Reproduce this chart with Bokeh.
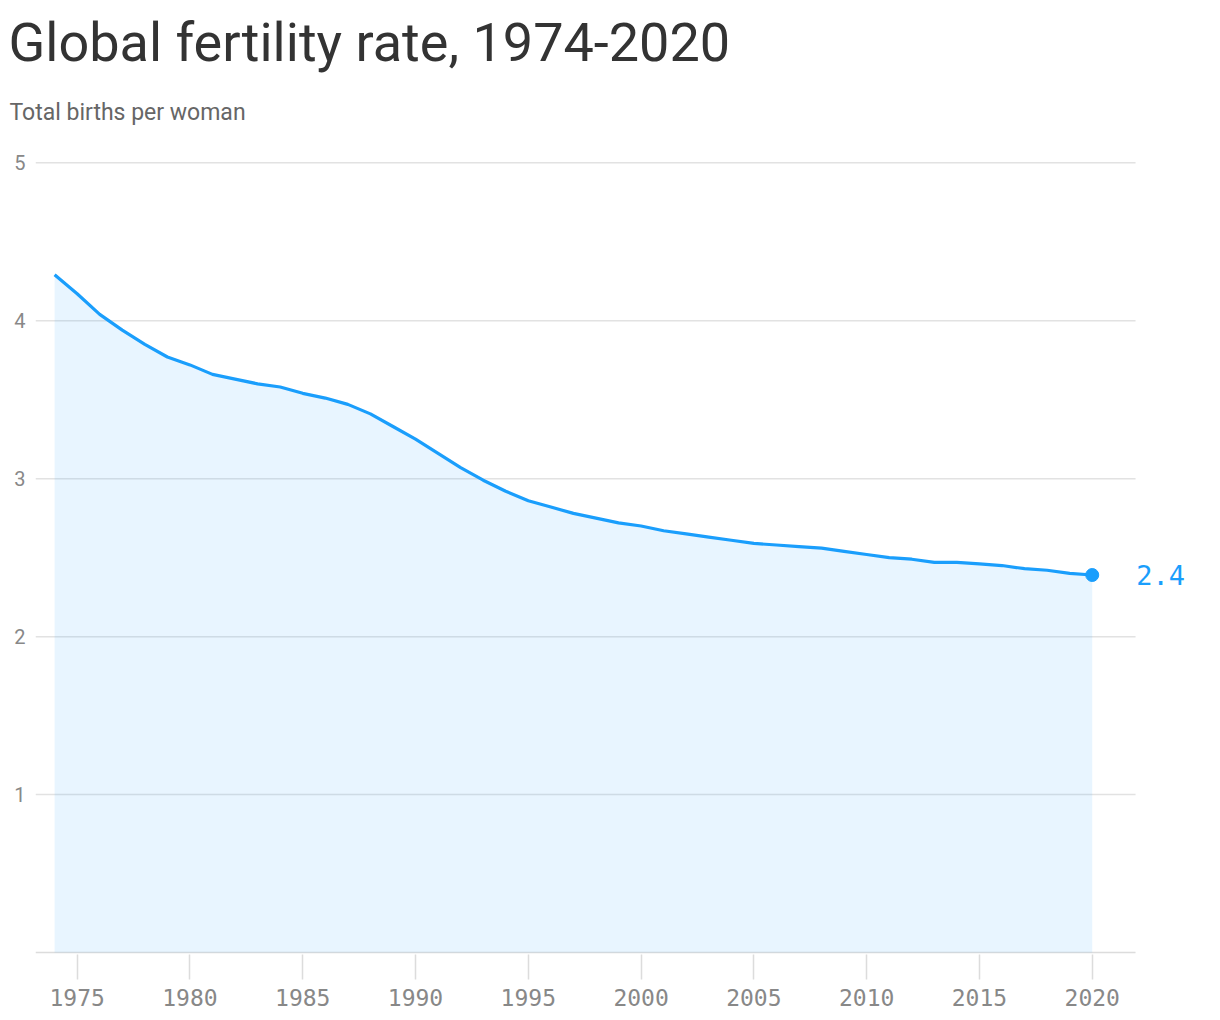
from bokeh.plotting import figure
from bokeh.models import Range1d, FixedTicker, Title, Label
from bokeh.embed import file_html
from bokeh.resources import INLINE

years = list(range(1974, 2021))
fertility = [4.29, 4.17, 4.04, 3.94, 3.85, 3.77, 3.72, 3.66, 3.63, 3.60,
             3.58, 3.54, 3.51, 3.47, 3.41, 3.33, 3.25, 3.16, 3.07, 2.99,
             2.92, 2.86, 2.82, 2.78, 2.75, 2.72, 2.70, 2.67, 2.65, 2.63,
             2.61, 2.59, 2.58, 2.57, 2.56, 2.54, 2.52, 2.50, 2.49, 2.47,
             2.47, 2.46, 2.45, 2.43, 2.42, 2.40, 2.39]
x_ticks = [1975, 1980, 1985, 1990, 1995, 2000, 2005, 2010, 2015, 2020]
y_ticks = [1, 2, 3, 4, 5]
title_text = "Global fertility rate, 1974-2020"
subtitle_text = "Total births per woman"

BLUE = "#1a9efc"
GRID = "#e2e2e2"
AXIS = "#dcdcdc"

X_START, X_END = 1973.153, 2024.80   # frame extent (extra room on right for end label)
GRID_END = 2021.92                    # where grid / baseline stop

p = figure(frame_width=1165, frame_height=795,
           x_range=Range1d(X_START, X_END), y_range=Range1d(-0.012, 5.02),
           output_backend="svg", toolbar_location=None,
           min_border_left=35, min_border_right=4, min_border_top=159,
           min_border_bottom=64, title=None)
p.outline_line_color = None
p.background_fill_color = "white"
p.border_fill_color = "white"
p.xgrid.visible = False
p.ygrid.visible = False

# horizontal grid lines + baseline
p.segment(x0=[X_START] * len(y_ticks), x1=[GRID_END] * len(y_ticks),
          y0=y_ticks, y1=y_ticks, line_color=GRID, line_width=1.5)
p.segment(x0=[X_START], x1=[GRID_END], y0=[0], y1=[0],
          line_color=AXIS, line_width=1.5)

p.varea(x=years, y1=[0] * len(years), y2=fertility,
        fill_color=BLUE, fill_alpha=0.1)
p.line(x=years, y=fertility, line_color=BLUE, line_width=3.2)
p.scatter(x=[years[-1]], y=[fertility[-1]], size=13, color=BLUE)

p.add_layout(Label(x=years[-1], y=fertility[-1], text=f"{fertility[-1]:.1f}",
                   x_offset=44, text_baseline="middle", text_align="left",
                   text_font="DejaVu Sans Mono", text_font_size="27px",
                   text_color=BLUE))

xa = p.xaxis[0]
xa.ticker = FixedTicker(ticks=x_ticks)
xa.axis_line_color = None
xa.major_tick_line_color = AXIS
xa.major_tick_line_width = 1.5
xa.major_tick_out = 25
xa.major_tick_in = 0
xa.minor_tick_line_color = None
xa.major_label_standoff = 9
xa.major_label_text_font = "DejaVu Sans Mono"
xa.major_label_text_font_size = "23px"
xa.major_label_text_color = "#888888"

ya = p.yaxis[0]
ya.ticker = FixedTicker(ticks=y_ticks)
ya.axis_line_color = None
ya.major_tick_line_color = None
ya.minor_tick_line_color = None
ya.major_tick_out = 0
ya.major_tick_in = 0
ya.major_label_standoff = 10
ya.major_label_text_font = "Roboto"
ya.major_label_text_font_size = "20px"
ya.major_label_text_color = "#888888"

p.add_layout(Title(text=subtitle_text, text_font="Roboto", text_font_size="23px",
                   text_font_style="normal", text_color="#666666",
                   align="left", offset=-26, standoff=67), "above")
p.add_layout(Title(text=title_text, text_font="Roboto", text_font_size="54px",
                   text_font_style="normal", text_color="#333333",
                   align="left", offset=-27, standoff=-20), "above")

open("out.html", "w").write(file_html(p, INLINE))
